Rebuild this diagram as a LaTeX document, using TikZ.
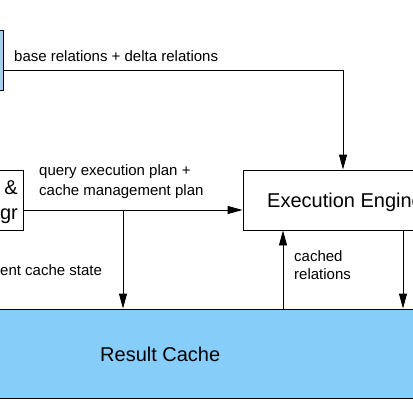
\documentclass[tikz,border=0pt]{standalone}
\usepackage{fontspec}
\setmainfont{Liberation Sans}
\usetikzlibrary{arrows.meta}
\definecolor{srcblue}{RGB}{168,205,240}
\definecolor{cacheblue}{RGB}{135,205,250}
\tikzset{
  box/.style={draw=black, line width=0.9pt, inner sep=0pt},
  arr/.style={draw=black, line width=0.9pt, -{Triangle[length=15pt,width=8pt]}},
  lbl/.style={inner sep=0pt, font=\fontsize{15}{20}\selectfont, align=left},
  big/.style={inner sep=0pt, font=\fontsize{20}{24}\selectfont, align=left},
}
\begin{document}
\begin{tikzpicture}[x=1pt,y=-1pt]
\useasboundingbox (0,0) rectangle (413,413);
\fill[white] (0,0) rectangle (413,413);
% boxes
\node (src) [box, fill=srcblue, minimum width=30pt, minimum height=60pt] at (-12,60) {};
\node (opt) [box, fill=white, minimum width=123pt, minimum height=60pt] at (-38.5,200) {};
\node (exec) [box, fill=white, minimum width=257pt, minimum height=60pt] at (371.5,200) {};
\node (cache) [box, fill=cacheblue, minimum width=433pt, minimum height=89pt] at (206.5,353.5) {};
% box texts
\node (optA) [big, anchor=east] at (18,188) {\&};
\node (optB) [big, anchor=east] at (18,216) {gr};
\node (execT) [big, anchor=west] at (267,202) {Execution Engine};
\node (cacheT) [big, anchor=west] at (100,354) {Result Cache};
% helper coordinates
\coordinate (y70) at (0,70);
\coordinate (y210) at (0,210);
\coordinate (x123) at (123,0);
\coordinate (x283) at (283,0);
\coordinate (x343) at (343,0);
\coordinate (x403) at (403,0);
\coordinate (j1) at (x123 |- y210);
% connectors
\draw[arr] (src.east |- y70) -| (exec.north -| x343);
\draw[arr] (opt.east |- y210) -- (exec.west |- y210);
\draw[arr] (j1) -- (cache.north -| j1);
\draw[arr] (cache.north -| x283) -- (exec.south -| x283);
\draw[arr] (exec.south -| x403) -- (cache.north -| x403);
% labels
\node (l1) [lbl, anchor=west] at (14,56) {base relations + delta relations};
\node (l2) [lbl, anchor=west] at (39,182) {query execution plan +\\cache management plan};
\node (l3) [lbl, anchor=west] at (0,270) {ent cache state};
\node (l4) [lbl, anchor=west, font=\fontsize{15}{18}\selectfont] at (294,265) {cached\\relations};
\end{tikzpicture}
\end{document}
